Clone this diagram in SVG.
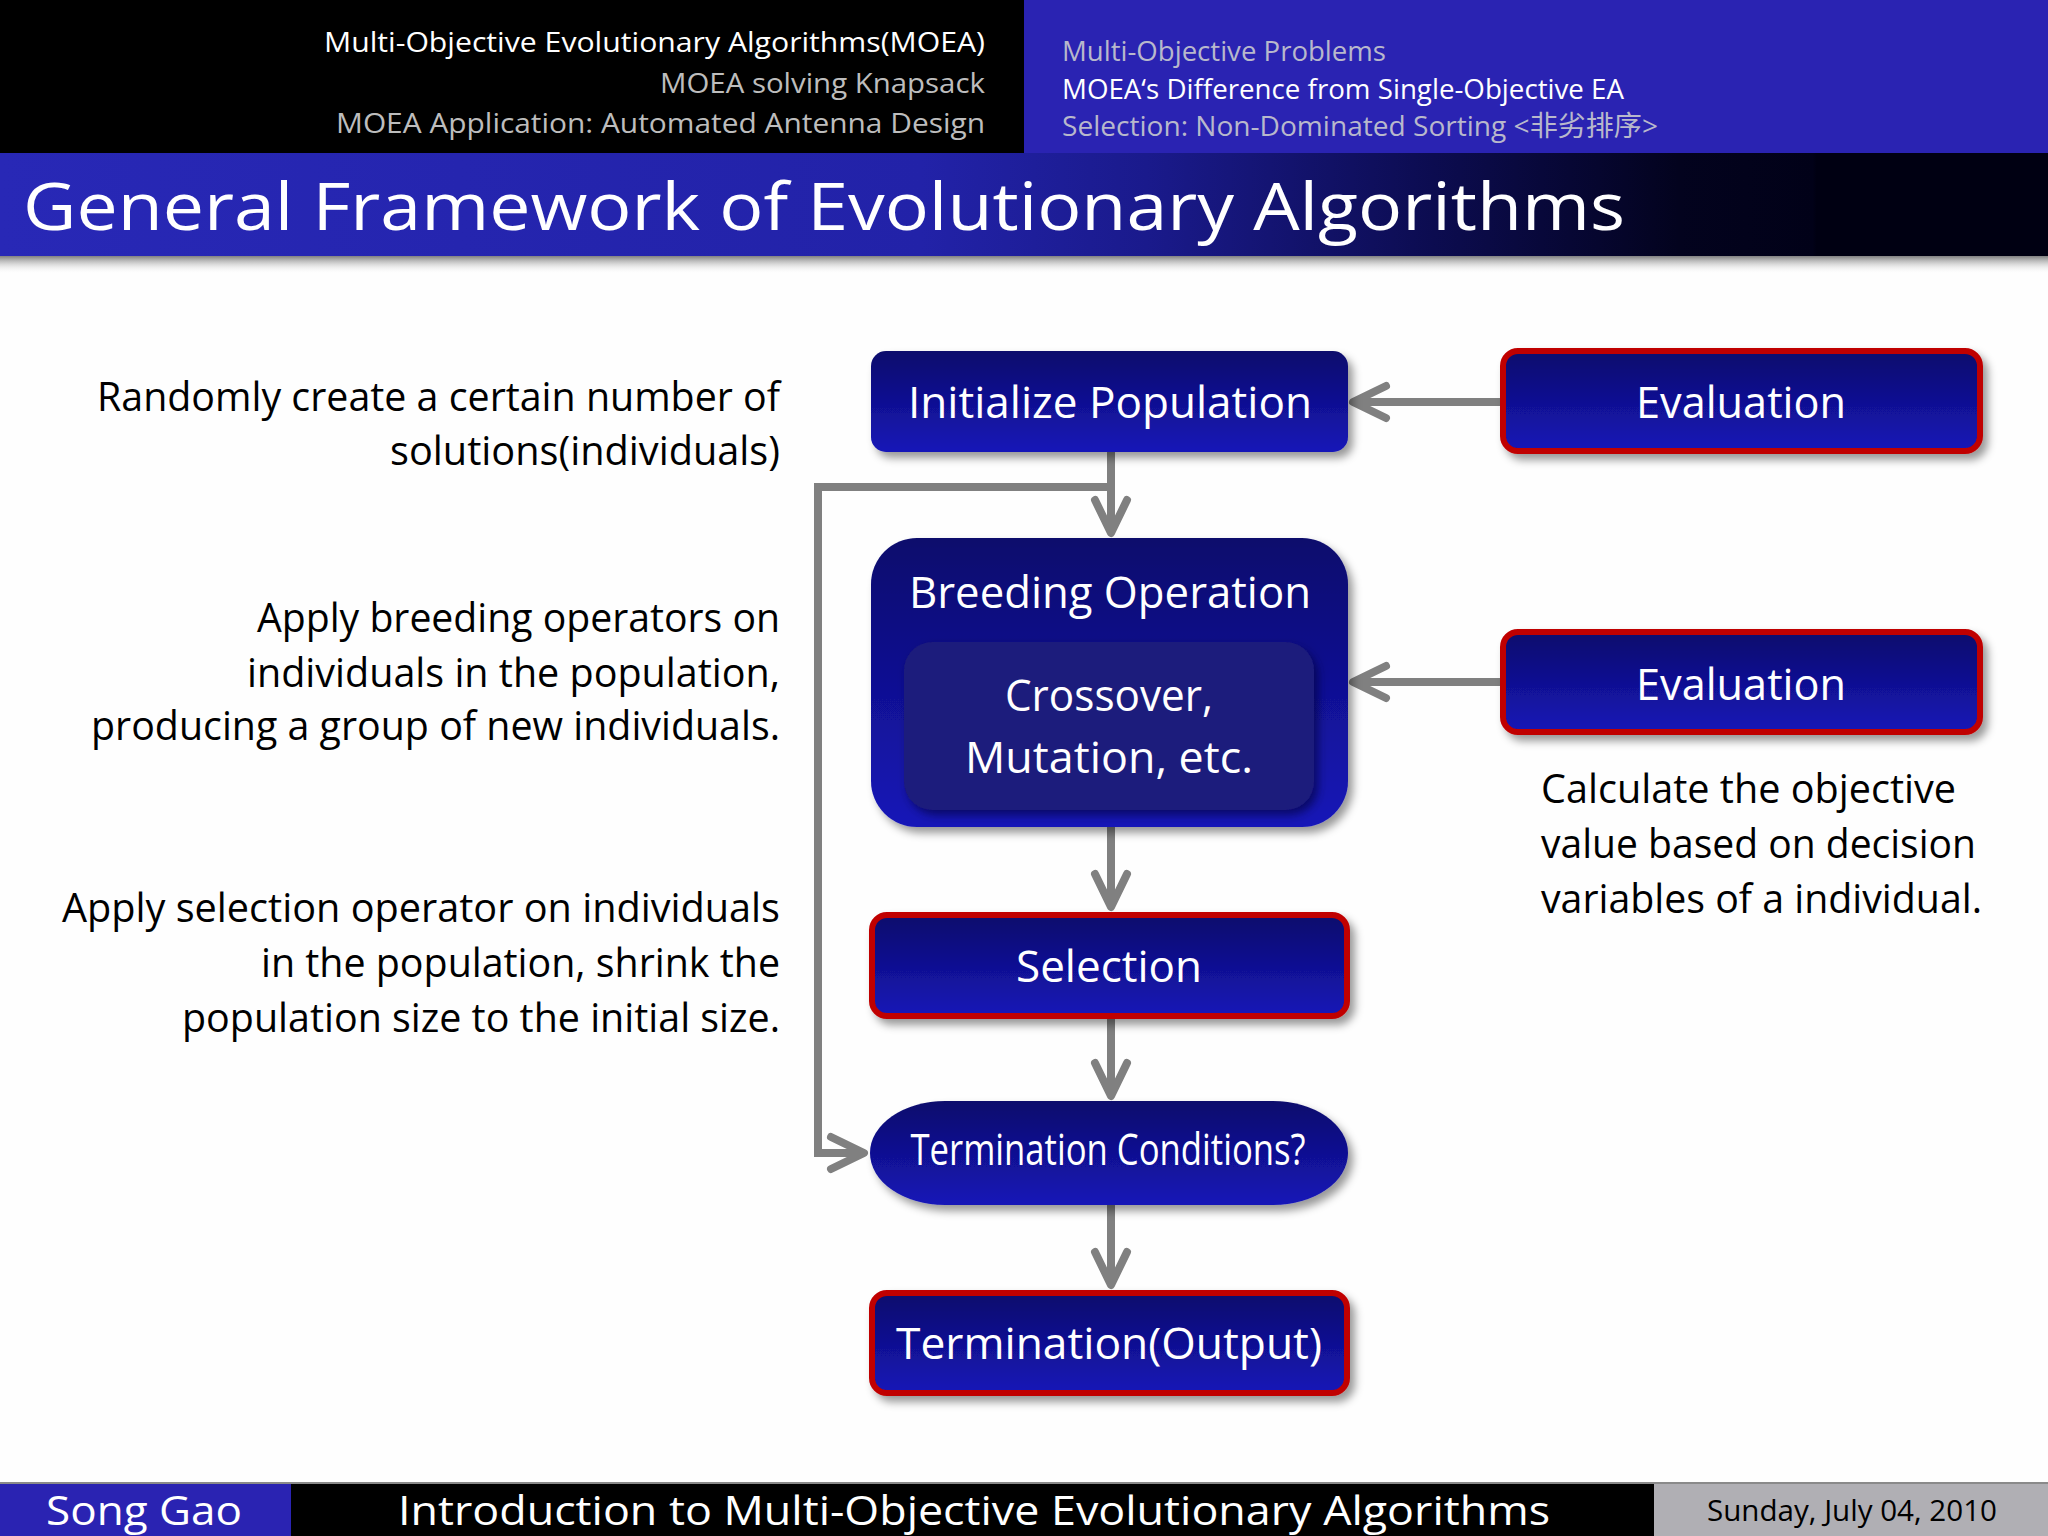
<svg xmlns="http://www.w3.org/2000/svg" width="2048" height="1536" viewBox="0 0 2048 1536">
<defs>
<style>
.hdr{font-family:"Open Sans","Noto Sans CJK SC",sans-serif;font-size:28px;}
.wht{fill:#ffffff;}
.gry{fill:#bdbdbd;}
.gryb{fill:#b8b8cc;}
.body{font-family:"Open Sans",sans-serif;font-size:40px;fill:#000;text-anchor:end;}
.rbody{font-family:"Open Sans",sans-serif;font-size:40px;fill:#000;}
.ntxt{font-family:"Open Sans",sans-serif;font-size:43px;fill:#fff;text-anchor:middle;}
.box{fill:url(#nodeGrad);filter:url(#shadow);}
.rbox{fill:url(#nodeGrad);stroke:#c00000;stroke-width:6;filter:url(#shadow);}
.conn{fill:none;stroke:#808080;stroke-width:8;stroke-linejoin:miter;}
.foot{font-family:"Open Sans",sans-serif;font-size:40px;fill:#fff;}
</style>
<linearGradient id="nodeGrad" x1="0" y1="0" x2="0" y2="1">
<stop offset="0" stop-color="#0b0b6c"/>
<stop offset="1" stop-color="#1616b8"/>
</linearGradient>
<linearGradient id="titleGrad" x1="0" y1="0" x2="1" y2="0">
<stop offset="0" stop-color="#2828b6"/>
<stop offset="0.45" stop-color="#2222a8"/>
<stop offset="0.56" stop-color="#1a1a8c"/>
<stop offset="0.7" stop-color="#0c0c50"/>
<stop offset="0.82" stop-color="#03031e"/>
<stop offset="0.885" stop-color="#010118"/>
<stop offset="0.887" stop-color="#000012"/>
<stop offset="1" stop-color="#000012"/>
</linearGradient>
<linearGradient id="shadeGrad" x1="0" y1="0" x2="0" y2="1">
<stop offset="0" stop-color="#808080"/>
<stop offset="1" stop-color="#ffffff" stop-opacity="0"/>
</linearGradient>
<filter id="shadow" x="-10%" y="-20%" width="125%" height="150%">
<feDropShadow dx="5" dy="6" stdDeviation="4" flood-color="#000" flood-opacity="0.4"/>
</filter>
<filter id="innerShadow" x="-10%" y="-10%" width="125%" height="130%">
<feDropShadow dx="4" dy="5" stdDeviation="5" flood-color="#000030" flood-opacity="0.6"/>
</filter>
<marker id="arr" markerUnits="userSpaceOnUse" markerWidth="50" markerHeight="50" viewBox="-45 -25 50 50" refX="0" refY="0" orient="auto" overflow="visible">
<path d="M-33,-16 L0,0 L-33,16" fill="none" stroke="#808080" stroke-width="8" stroke-linecap="round" stroke-linejoin="round"/>
</marker>
</defs>

<rect x="0" y="0" width="2048" height="1536" fill="#fefefe"/>

<g id="header">
<rect x="0" y="0" width="1024" height="153" fill="#000"/>
<rect x="1024" y="0" width="1024" height="153" fill="#2a23b2"/>
<text class="hdr wht" x="985" y="52" text-anchor="end" textLength="661" lengthAdjust="spacingAndGlyphs">Multi-Objective Evolutionary Algorithms(MOEA)</text>
<text class="hdr gry" x="985" y="93" text-anchor="end" textLength="325" lengthAdjust="spacingAndGlyphs">MOEA solving Knapsack</text>
<text class="hdr gry" x="985" y="133" text-anchor="end" textLength="649" lengthAdjust="spacingAndGlyphs">MOEA Application: Automated Antenna Design</text>
<text class="hdr gryb" x="1062" y="61" textLength="324" lengthAdjust="spacingAndGlyphs">Multi-Objective Problems</text>
<text class="hdr wht" x="1062" y="99" textLength="562" lengthAdjust="spacingAndGlyphs">MOEA‘s Difference from Single-Objective EA</text>
<text class="hdr gryb" x="1062" y="136" textLength="596" lengthAdjust="spacingAndGlyphs">Selection: Non-Dominated Sorting &lt;非劣排序&gt;</text>
</g>

<g id="title">
<rect x="0" y="256" width="2048" height="18" fill="url(#shadeGrad)"/>
<rect x="0" y="153" width="2048" height="103" fill="url(#titleGrad)"/>
<text x="23" y="230" font-family="Open Sans, sans-serif" font-size="66" fill="#fff" textLength="1602" lengthAdjust="spacingAndGlyphs">General Framework of Evolutionary Algorithms</text>
</g>

<g id="left-notes">
<text class="body" x="780" y="411" textLength="683" lengthAdjust="spacingAndGlyphs">Randomly create a certain number of</text>
<text class="body" x="780" y="465" textLength="390" lengthAdjust="spacingAndGlyphs">solutions(individuals)</text>
<text class="body" x="780" y="632" textLength="523" lengthAdjust="spacingAndGlyphs">Apply breeding operators on</text>
<text class="body" x="780" y="687" textLength="533" lengthAdjust="spacingAndGlyphs">individuals in the population,</text>
<text class="body" x="780" y="740" textLength="689" lengthAdjust="spacingAndGlyphs">producing a group of new individuals.</text>
<text class="body" x="780" y="922" textLength="718" lengthAdjust="spacingAndGlyphs">Apply selection operator on individuals</text>
<text class="body" x="780" y="977" textLength="519" lengthAdjust="spacingAndGlyphs">in the population, shrink the</text>
<text class="body" x="780" y="1032" textLength="598" lengthAdjust="spacingAndGlyphs">population size to the initial size.</text>
</g>

<g id="right-note">
<text class="rbody" x="1541" y="803" textLength="415" lengthAdjust="spacingAndGlyphs">Calculate the objective</text>
<text class="rbody" x="1541" y="858" textLength="435" lengthAdjust="spacingAndGlyphs">value based on decision</text>
<text class="rbody" x="1541" y="913" textLength="441" lengthAdjust="spacingAndGlyphs">variables of a individual.</text>
</g>

<g id="connectors">
<path class="conn" d="M1111,452 V533" marker-end="url(#arr)"/>
<path class="conn" d="M1111,487 H818 V1153 H864" marker-end="url(#arr)"/>
<path class="conn" d="M1111,827 V907" marker-end="url(#arr)"/>
<path class="conn" d="M1111,1019 V1096" marker-end="url(#arr)"/>
<path class="conn" d="M1111,1205 V1285" marker-end="url(#arr)"/>
<path class="conn" d="M1500,402 H1353" marker-end="url(#arr)"/>
<path class="conn" d="M1500,682 H1353" marker-end="url(#arr)"/>
</g>

<g id="node-init">
<rect class="box" x="871" y="351" width="477" height="101" rx="15"/>
<text class="ntxt" x="1110" y="418" textLength="404" lengthAdjust="spacingAndGlyphs">Initialize Population</text>
</g>

<g id="node-breeding">
<rect class="box" x="871" y="538" width="477" height="289" rx="46"/>
<text class="ntxt" x="1110" y="608" textLength="402" lengthAdjust="spacingAndGlyphs">Breeding Operation</text>
<rect x="904" y="642" width="410" height="168" rx="28" fill="#1b1a7c" filter="url(#innerShadow)"/>
<text class="ntxt" x="1109" y="711" textLength="208" lengthAdjust="spacingAndGlyphs">Crossover,</text>
<text class="ntxt" x="1109" y="773" textLength="288" lengthAdjust="spacingAndGlyphs">Mutation, etc.</text>
</g>

<g id="node-selection">
<rect class="rbox" x="872" y="915" width="475" height="101" rx="15"/>
<text class="ntxt" x="1109" y="982" textLength="186" lengthAdjust="spacingAndGlyphs">Selection</text>
</g>

<g id="node-termcond">
<rect class="box" x="870" y="1101" width="478" height="104" rx="75" ry="52"/>
<text class="ntxt" x="1108" y="1165" font-size="32" textLength="395" lengthAdjust="spacingAndGlyphs">Termination Conditions?</text>
</g>

<g id="node-output">
<rect class="rbox" x="872" y="1293" width="475" height="100" rx="15"/>
<text class="ntxt" x="1109" y="1359" font-size="45" textLength="426" lengthAdjust="spacingAndGlyphs">Termination(Output)</text>
</g>

<g id="node-eval1">
<rect class="rbox" x="1503" y="351" width="477" height="100" rx="15"/>
<text class="ntxt" x="1741" y="418" textLength="210" lengthAdjust="spacingAndGlyphs">Evaluation</text>
</g>

<g id="node-eval2">
<rect class="rbox" x="1503" y="632" width="477" height="100" rx="15"/>
<text class="ntxt" x="1741" y="700" textLength="210" lengthAdjust="spacingAndGlyphs">Evaluation</text>
</g>

<g id="footer">
<rect x="0" y="1482" width="2048" height="3" fill="#8a8a8a"/>
<rect x="0" y="1484" width="291" height="52" fill="#2a23b2"/>
<rect x="291" y="1484" width="1363" height="52" fill="#000"/>
<rect x="1654" y="1484" width="394" height="52" fill="#b0afb4"/>
<text class="foot" x="46" y="1525" textLength="196" lengthAdjust="spacingAndGlyphs">Song Gao</text>
<text class="foot" x="398" y="1525" textLength="1152" lengthAdjust="spacingAndGlyphs">Introduction to Multi-Objective Evolutionary Algorithms</text>
<text x="1707" y="1521" font-family="Open Sans, sans-serif" font-size="29" fill="#000" textLength="290" lengthAdjust="spacingAndGlyphs">Sunday, July 04, 2010</text>
</g>
</svg>
